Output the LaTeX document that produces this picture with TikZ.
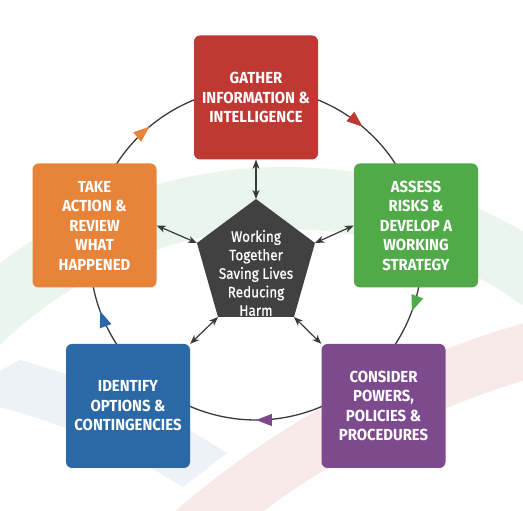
\documentclass[tikz,border=0pt]{standalone}
\usepackage{fontspec}
\setmainfont{Fira Sans}
\newfontfamily\boxfont{Fira Sans}[FakeStretch=0.93]
\newfontfamily\hubfont{Fira Sans}[FakeStretch=0.9,FakeBold=0.8]
\usetikzlibrary{arrows.meta,shapes.geometric,decorations.markings}
\definecolor{gatherRed}{RGB}{192,56,50}
\definecolor{assessGreen}{RGB}{80,170,72}
\definecolor{considerPurple}{RGB}{126,74,142}
\definecolor{identifyBlue}{RGB}{42,105,166}
\definecolor{actionOrange}{RGB}{232,131,58}
\definecolor{hubGrey}{RGB}{65,65,65}
\definecolor{lineGrey}{RGB}{58,58,58}
\definecolor{paleGreen}{RGB}{234,246,237}
\definecolor{paleRed}{RGB}{248,233,233}
\definecolor{paleBlue}{RGB}{236,242,247}

\begin{document}
\begin{tikzpicture}[x=1pt,y=1pt,
  stage/.style={rounded corners=6pt,minimum width=124pt,minimum height=124pt,inner sep=0pt,
    align=center,text=white,font=\boxfont\bfseries\fontsize{16pt}{19.5pt}\selectfont},
  hubtext/.style={align=center,text=white,font=\hubfont\fontsize{15pt}{18.5pt}\selectfont},
  link/.style={{Stealth[length=9pt,width=7pt,inset=2.5pt]}-{Stealth[length=9pt,width=7pt,inset=2.5pt]},line width=1.2pt,lineGrey},
  ring/.style={line width=1.3pt,lineGrey}]
\useasboundingbox (0,0) rectangle (523,511);
\fill[white] (0,0) rectangle (523,511);
% faint swooshes in the background
\begin{scope}
  \clip (0,0) rectangle (523,511);
  \draw[paleGreen,line width=62pt] (285,-126) circle[radius=439];
  \draw[paleRed,line width=55pt] (770,-687) circle[radius=881];
  \fill[paleBlue] (0,140) -- (20,151) to[bend left=8] (227,58) -- (183,24) to[bend right=8] (0,104) -- cycle;
\end{scope}
% the cycle
\coordinate (ctr) at (256,257);
\draw[ring,postaction={decorate},decoration={markings,
    mark=at position 0.111 with {\arrow[gatherRed]{Triangle[length=16pt,width=12pt]}},
    mark=at position 0.306 with {\arrow[assessGreen]{Triangle[length=16pt,width=12pt]}},
    mark=at position 0.5 with {\arrow[considerPurple]{Triangle[length=16pt,width=12pt]}},
    mark=at position 0.694 with {\arrow[identifyBlue]{Triangle[length=16pt,width=12pt]}},
    mark=at position 0.889 with {\arrow[actionOrange]{Triangle[length=16pt,width=12pt]}}}]
  (ctr) ++(90:166) arc[start angle=90,end angle=-270,radius=166];
\node[stage,fill=gatherRed] (gather) at (256,413.5) {GATHER\\INFORMATION \&\\INTELLIGENCE};
\node[stage,fill=assessGreen] (assess) at (416,285.5) {ASSESS\\RISKS \&\\DEVELOP A\\WORKING\\STRATEGY};
\node[stage,fill=considerPurple] (consider) at (383.5,105) {CONSIDER\\POWERS,\\POLICIES \&\\PROCEDURES};
\node[stage,fill=identifyBlue] (identify) at (128,105) {IDENTIFY\\OPTIONS \&\\CONTINGENCIES};
\node[stage,fill=actionOrange] (action) at (94.5,285.5) {TAKE\\ACTION \&\\REVIEW\\WHAT\\HAPPENED};
% centre pentagon
\coordinate (p1) at (256,312);
\coordinate (p2) at (197,268);
\coordinate (p3) at (218,194);
\coordinate (p4) at (294,194);
\coordinate (p5) at (315,268);
\fill[hubGrey] (p1) -- (p2) -- (p3) -- (p4) -- (p5) -- cycle;
\node[hubtext] (hublabel) at (256,238) {Working\\Together\\Saving Lives\\Reducing\\Harm};
\draw[link] (gather.south) -- (p1);
\draw[link] (action.east) -- (p2);
\draw[link] (identify.north east) -- (p3);
\draw[link] (consider.north west) -- (p4);
\draw[link] (assess.west) -- (p5);
\end{tikzpicture}
\end{document}
